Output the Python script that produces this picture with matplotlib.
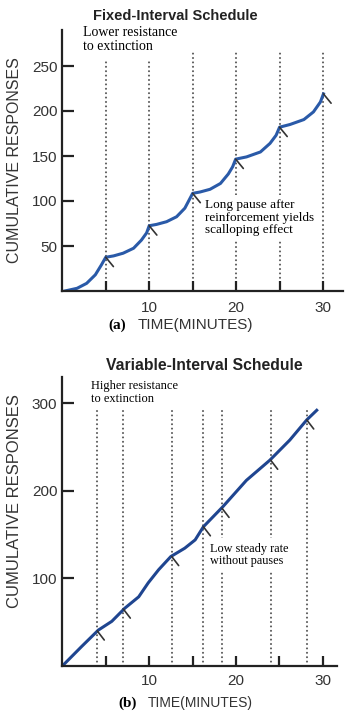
import matplotlib
matplotlib.use('Agg')
import matplotlib.pyplot as plt

# fixed-interval curve (minutes, cumulative responses)
fi_t = [0.3, 1.7, 2.8, 3.8, 4.5, 5.0,
        5.9, 7.0, 8.2, 9.1, 9.7, 10.0,
        10.85, 12.0, 13.15, 14.1, 14.7, 15.0,
        15.85, 17.0, 18.2, 19.1, 19.6, 19.95,
        21.2, 22.8, 23.9, 24.6, 25.0,
        26.2, 27.8, 28.9, 29.7, 30.05]
fi_y = [0, 3, 8.5, 18, 29, 37.5,
        39, 42, 47.5, 56.5, 64.5, 72.5,
        74, 77, 82.5, 92, 103, 108.5,
        110, 113, 119.5, 130, 138, 146.5,
        149, 154.5, 164, 173, 182,
        185, 190.5, 199, 210, 219]
fi_reinf_t = [5.0, 10.0, 15.0, 19.95, 25.0, 30.05]
fi_reinf_y = [37.5, 72.5, 108.5, 146.5, 182, 219]
fi_grid_t = [5, 10, 15, 20, 25, 30]
fi_yticks = [50, 100, 150, 200, 250]

# variable-interval curve
vi_t = [0, 2.2, 4.15, 5.7, 7.2, 8.8, 9.9, 11.1, 12.5, 14.1, 15.3,
        16.25, 18.5, 21.2, 23.9, 26.2, 28.15, 29.3]
vi_y = [0, 22, 41, 51, 66, 79, 95, 110, 125, 134.5, 144,
        159, 182, 212, 235, 258, 281, 292]
vi_reinf_t = [4.03, 7.03, 12.6, 16.25, 18.4, 24.0, 28.15]
vi_reinf_y = [40, 65, 125, 159, 180, 235, 281]
vi_yticks = [100, 200, 300]

xticks = [5, 10, 15, 20, 25, 30]
xticklabels = ['', '10', '', '20', '', '30']

SANS = ['Liberation Sans', 'DejaVu Sans']
SERIF = ['Liberation Serif', 'DejaVu Serif']
W, H = 357, 726


def px_rect(x0, y_top, x1, y_bot):
    return [x0 / W, 1 - y_bot / H, (x1 - x0) / W, (y_bot - y_top) / H]


def style_axes(ax, yticks, xpad, label_size):
    for s in ['top', 'right']:
        ax.spines[s].set_visible(False)
    for s in ['left', 'bottom']:
        ax.spines[s].set_linewidth(1.6)
        ax.spines[s].set_color('#222222')
        ax.spines[s].set_zorder(4)
    ax.set_xticks(xticks)
    ax.set_xticklabels(xticklabels, family=SANS, fontsize=label_size, color='#333333')
    ax.set_yticks(yticks)
    ax.set_yticklabels([str(v) for v in yticks], family=SANS, fontsize=label_size, color='#333333')
    ax.tick_params(axis='x', direction='in', length=7, width=1.6, color='#222222', pad=xpad)
    ax.tick_params(axis='y', direction='in', length=8.5, width=1.6, color='#222222', pad=3.5)


def hashes(ax, ts, ys, dx, dy):
    for t, y in zip(ts, ys):
        ax.annotate('', xy=(t, y), xytext=(dx, dy), textcoords='offset points',
                    arrowprops=dict(arrowstyle='-', shrinkA=0, shrinkB=0, lw=1.2, color='#333333'),
                    zorder=5)


fig = plt.figure(figsize=(W / 100, H / 100), dpi=100)
fig.patch.set_facecolor('white')

dots = (0, (0.01, 2.1))

# ---- (a) fixed interval
ax1 = fig.add_axes(px_rect(62.3, 30, 343, 291))
ax1.set_xlim(0, 32.3)
ax1.set_ylim(0, 290)
vl = ax1.vlines(fi_grid_t, 0, [255, 255, 264, 264, 264, 264], colors='#5a5a5a',
                linestyles=[dots], lw=1.5, zorder=1)
vl.set_capstyle('round')
ax1.plot(fi_t, fi_y, color='#2a5aa8', lw=2.2, solid_joinstyle='round', zorder=3)
hashes(ax1, fi_reinf_t, fi_reinf_y, 5.5, -6.7)
style_axes(ax1, fi_yticks, 7, 11)
ax1.text(2.4, 294, 'Lower resistance\nto extinction', family=SERIF, fontsize=10,
         va='top', ha='left', linespacing=1.1, clip_on=False)
ax1.text(16.4, 102, 'Long pause after\nreinforcement yields\nscalloping effect',
         family=SERIF, fontsize=9.5, va='top', ha='left', linespacing=1.05, zorder=4,
         bbox=dict(facecolor='white', edgecolor='none', pad=3))

fig.text(175 / W, 1 - 16 / H, 'Fixed-Interval Schedule', family=SANS, fontsize=10.5,
         fontweight='bold', ha='center', va='center', color='#222222')
fig.text(15 / W, 1 - 160 / H, 'CUMULATIVE RESPONSES', family=SANS, fontsize=11.5,
         rotation=90, ha='center', va='center', color='#333333')
fig.text(126 / W, 1 - 325 / H, '(a)', family=SERIF, fontsize=11, fontweight='bold',
         ha='right', va='center')
fig.text(138 / W, 1 - 325 / H, 'TIME(MINUTES)', family=SANS, fontsize=11,
         ha='left', va='center', color='#333333')

# ---- (b) variable interval
ax2 = fig.add_axes(px_rect(62.3, 377, 336.7, 666))
ax2.set_xlim(0, 31.6)
ax2.set_ylim(0, 330)
vl = ax2.vlines(vi_reinf_t, 0, 294, colors='#5a5a5a', linestyles=[dots], lw=1.5, zorder=1)
vl.set_capstyle('round')
ax2.plot(vi_t, vi_y, color='#1f4590', lw=2.2, solid_joinstyle='round', zorder=3)
hashes(ax2, vi_reinf_t, vi_reinf_y, 5, -6.5)
style_axes(ax2, vi_yticks, 6, 11)
ax2.text(3.3, 327, 'Higher resistance\nto extinction', family=SERIF, fontsize=9,
         va='top', ha='left', linespacing=1.15, clip_on=False)
ax2.text(17.0, 141, 'Low steady rate\nwithout pauses', family=SERIF, fontsize=8.8,
         va='top', ha='left', linespacing=1.1, zorder=4,
         bbox=dict(facecolor='white', edgecolor='none', pad=3))

fig.text(204 / W, 1 - 366 / H, 'Variable-Interval Schedule', family=SANS, fontsize=11.3,
         fontweight='bold', ha='center', va='center', color='#222222')
fig.text(15 / W, 1 - 501 / H, 'CUMULATIVE RESPONSES', family=SANS, fontsize=12,
         rotation=90, ha='center', va='center', color='#333333')
fig.text(137 / W, 1 - 703 / H, '(b)', family=SERIF, fontsize=11, fontweight='bold',
         ha='right', va='center')
fig.text(148 / W, 1 - 703 / H, 'TIME(MINUTES)', family=SANS, fontsize=10,
         ha='left', va='center', color='#333333')

fig.savefig('out.png', dpi=100, facecolor='white')
